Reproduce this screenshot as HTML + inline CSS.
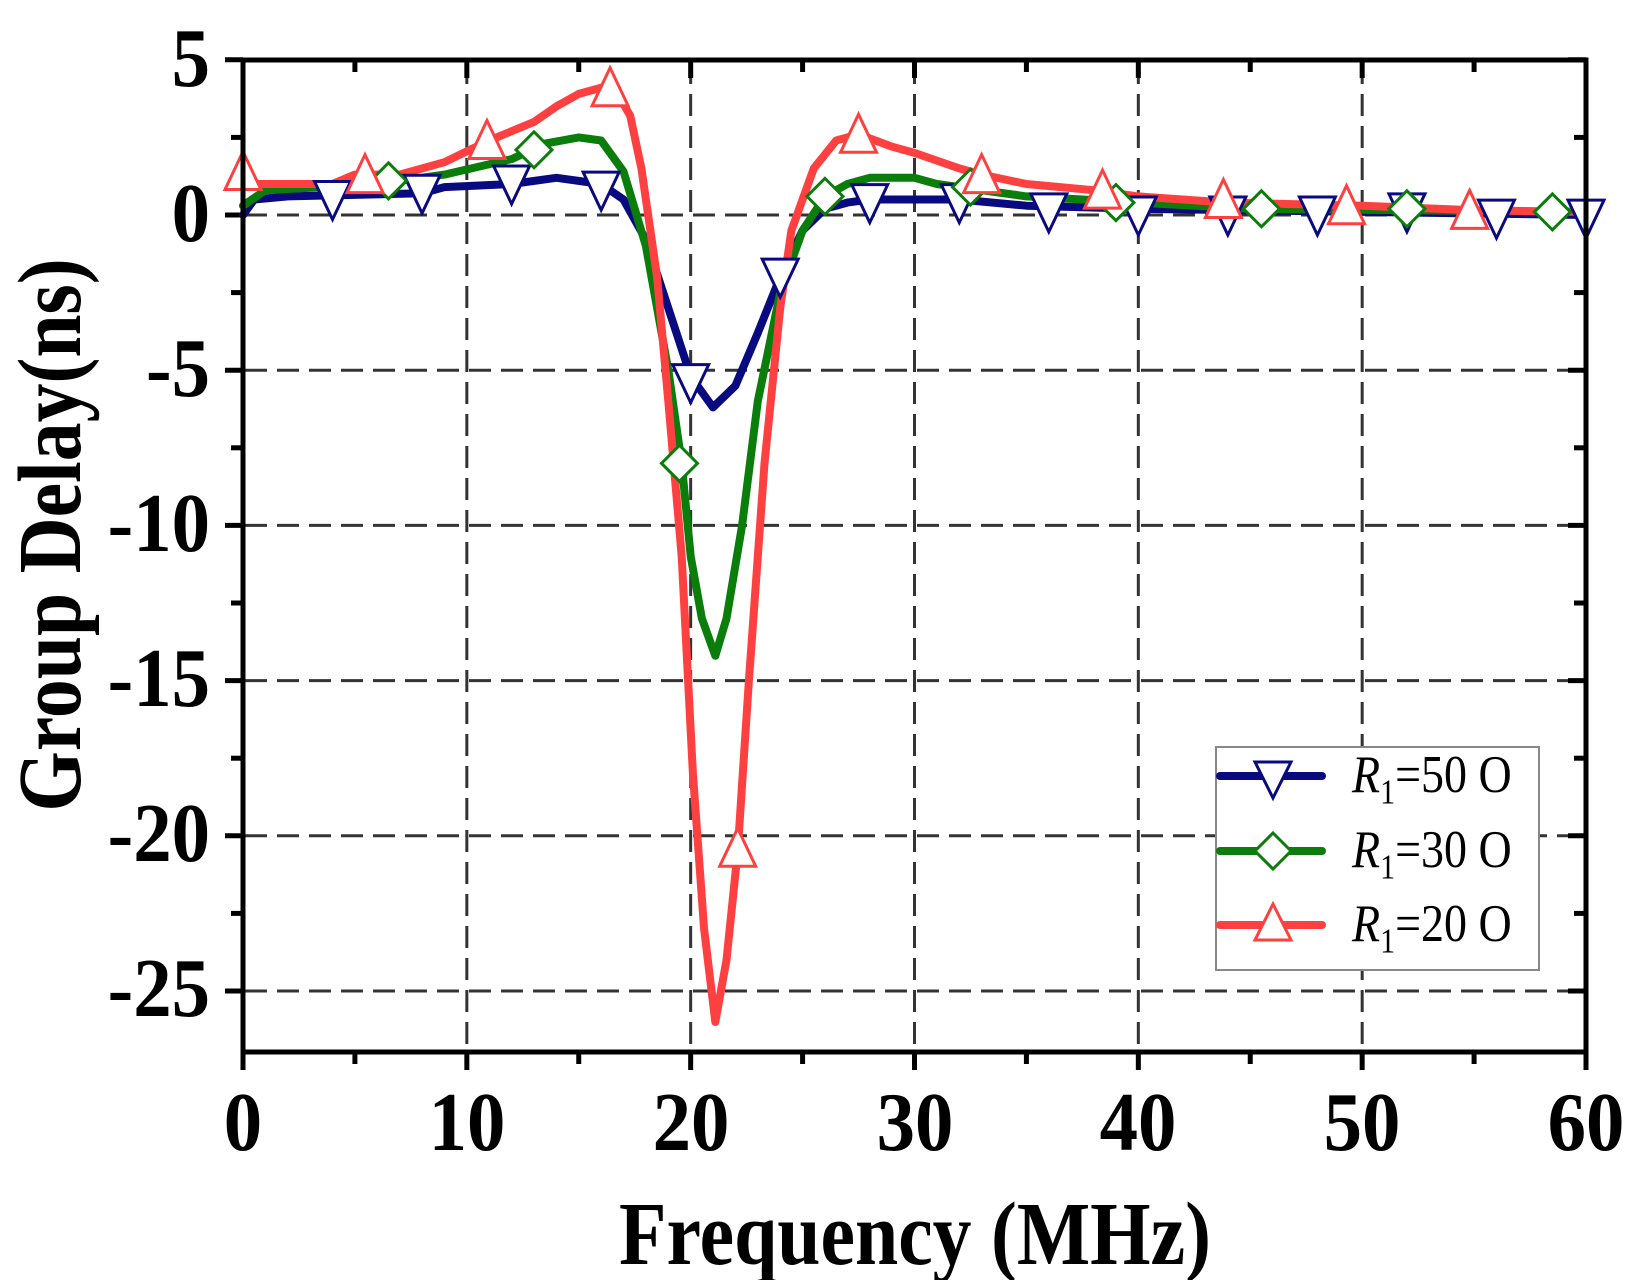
<!DOCTYPE html>
<html><head><meta charset="utf-8"><style>
html,body{margin:0;padding:0;background:#fff;}
svg{display:block;}
text{font-family:"Liberation Serif",serif;}
</style></head><body>
<svg id="s" width="1636" height="1280" viewBox="0 0 1636 1280" xmlns="http://www.w3.org/2000/svg">
<rect width="1636" height="1280" fill="#fff"/>
<g id="grid" stroke="#333" stroke-width="3" stroke-dasharray="22,10" fill="none"></g>
<g id="ticks" stroke="#000" stroke-width="5"></g>
<g id="series"></g>
<rect x="243" y="60" width="1343" height="992" fill="none" stroke="#000" stroke-width="5"/>
<g font-weight="bold" font-size="64" fill="#000">
<text transform="translate(243,1150) scale(1.2,1.3)" text-anchor="middle">0</text>
<text transform="translate(467,1150) scale(1.2,1.3)" text-anchor="middle">10</text>
<text transform="translate(691,1150) scale(1.2,1.3)" text-anchor="middle">20</text>
<text transform="translate(915,1150) scale(1.2,1.3)" text-anchor="middle">30</text>
<text transform="translate(1138,1150) scale(1.2,1.3)" text-anchor="middle">40</text>
<text transform="translate(1362,1150) scale(1.2,1.3)" text-anchor="middle">50</text>
<text transform="translate(1586,1150) scale(1.2,1.3)" text-anchor="middle">60</text>
<text transform="translate(210,86) scale(1.2,1.3)" text-anchor="end">5</text>
<text transform="translate(210,241) scale(1.2,1.3)" text-anchor="end">0</text>
<text transform="translate(210,396) scale(1.2,1.3)" text-anchor="end">-5</text>
<text transform="translate(210,551) scale(1.2,1.3)" text-anchor="end">-10</text>
<text transform="translate(210,706) scale(1.2,1.3)" text-anchor="end">-15</text>
<text transform="translate(210,861) scale(1.2,1.3)" text-anchor="end">-20</text>
<text transform="translate(210,1016) scale(1.2,1.3)" text-anchor="end">-25</text>
<text transform="translate(915,1264) scale(1.05,1.22)" text-anchor="middle" font-size="74">Frequency (MHz)</text>
<text transform="translate(80,535) rotate(-90) scale(1.05,1.22)" text-anchor="middle" font-size="74">Group Delay(ns)</text>
</g>
<rect x="1216" y="747" width="323" height="223" fill="#fff" stroke="#888" stroke-width="2"/>
<g stroke-linecap="round" stroke-width="8">
<line x1="1220" y1="776" x2="1322" y2="776" stroke="#0a0a80"/>
<line x1="1220" y1="851" x2="1322" y2="851" stroke="#0a7d0a"/>
<line x1="1220" y1="925" x2="1322" y2="925" stroke="#ff4040"/>
</g>
<g fill="#fff" stroke-width="3">
<polygon points="1255,762 1291,762 1273,798" stroke="#0a0a80"/>
<polygon points="1273,833 1291,851 1273,869 1255,851" stroke="#0a7d0a"/>
<polygon points="1255,940 1291,940 1273,904" stroke="#ff4040"/>
</g>
<g font-size="46" fill="#000">
<text transform="translate(1352,792) scale(1,1.15)"><tspan font-style="italic">R</tspan><tspan font-size="30" dy="10">1</tspan><tspan dy="-10">=50 O</tspan></text>
<text transform="translate(1352,867) scale(1,1.15)"><tspan font-style="italic">R</tspan><tspan font-size="30" dy="10">1</tspan><tspan dy="-10">=30 O</tspan></text>
<text transform="translate(1352,941) scale(1,1.15)"><tspan font-style="italic">R</tspan><tspan font-size="30" dy="10">1</tspan><tspan dy="-10">=20 O</tspan></text>
</g>
</svg>
<script>
(function(){
var NS="http://www.w3.org/2000/svg";
function X(f){return 243+f*1343/60;}
function Y(v){return 215-v*31.04;}
function el(p,n,a){var e=document.createElementNS(NS,n);for(var k in a)e.setAttribute(k,a[k]);p.appendChild(e);return e;}
var g=document.getElementById('grid');
[10,20,30,40,50].forEach(function(f){el(g,'line',{x1:X(f),y1:62,x2:X(f),y2:1050});});
[0,-5,-10,-15,-20,-25].forEach(function(v){el(g,'line',{x1:245,y1:Y(v),x2:1584,y2:Y(v)});});
var t=document.getElementById('ticks');
for(var f=0;f<=60;f+=5){var L=(f%10==0)?18:12;
 el(t,'line',{x1:X(f),y1:1052,x2:X(f),y2:1052+L});
 el(t,'line',{x1:X(f),y1:60,x2:X(f),y2:60+L});}
for(var v=5;v>=-27;v-=2.5){var L=(v%5==0)?18:12;
 el(t,'line',{x1:243,y1:Y(v),x2:243-L,y2:Y(v)});
 el(t,'line',{x1:1586,y1:Y(v),x2:1586-L,y2:Y(v)});}
var S=document.getElementById('series');
function line(d,c){var s=d.map(function(p){return X(p[0]).toFixed(1)+','+Y(p[1]).toFixed(1);}).join(' ');
 el(S,'polyline',{points:s,fill:'none',stroke:c,'stroke-width':8,'stroke-linejoin':'round','stroke-linecap':'round'});}
function tri(x,y,c,down){var cx=X(x),cy=Y(y),h=18;var p=down?[[cx-h,cy-h],[cx+h,cy-h],[cx,cy+h+2]]:[[cx-h,cy+h],[cx+h,cy+h],[cx,cy-h-2]];
 el(S,'polygon',{points:p.map(function(q){return q.join(',');}).join(' '),fill:'#fff',stroke:c,'stroke-width':3});}
function dia(x,y,c){var cx=X(x),cy=Y(y),h=18;el(S,'polygon',{points:[cx,cy-h,cx+h,cy,cx,cy+h,cx-h,cy].join(' '),fill:'#fff',stroke:c,'stroke-width':3});}
var blue=[[0,0],[0.5,0.5],[2,0.6],[8,0.7],[9,0.9],[12,1.0],[14,1.2],[16,1.0],[17,0.5],[18,-0.8],[19,-3],[20,-5.2],[21,-6.2],[22,-5.5],[23,-3.8],[24,-2],[25,-0.5],[26,0.2],[27,0.4],[28,0.5],[32,0.5],[35,0.3],[40,0.2],[50,0.1],[60,0.0]];
var green=[[0,0.3],[1,0.8],[6,1.0],[9,1.3],[12,1.8],[13.5,2.3],[15,2.5],[16,2.4],[17,1.4],[18,-1],[19,-5],[19.6,-8],[20,-11],[20.5,-13],[21.1,-14.2],[21.6,-13],[22.3,-10],[23,-6],[24,-2.5],[25,-0.5],[26,0.6],[27,1.0],[28,1.2],[30,1.2],[31,1.0],[33,0.8],[35,0.6],[40,0.4],[45,0.2],[60,0.1]];
var red=[[0,1.6],[0.5,1.0],[4,1.0],[5,1.3],[7,1.3],[9,1.7],[11,2.4],[13,3.0],[14,3.5],[15,3.9],[16.5,4.2],[17.3,3.2],[17.8,1.5],[18.5,-2],[19,-6],[19.6,-11],[20.1,-18],[20.6,-23],[21.1,-26],[21.6,-24],[22.1,-20.5],[22.6,-15],[23.3,-8],[24,-3],[24.5,-0.5],[25.5,1.5],[26.5,2.4],[27.5,2.6],[29,2.2],[30,2.0],[32,1.5],[33,1.3],[35,1.0],[38,0.8],[40,0.6],[44,0.4],[50,0.3],[55,0.15],[60,0.1]];
line(blue,'#0a0a80');line(green,'#0a7d0a');line(red,'#ff4040');
[[4,0.5],[8,0.7],[12,1.0],[16,0.8],[20,-5.4],[24,-2],[28,0.4],[32,0.4],[36,0.1],[40,0],[44,0],[48,0],[52,0.1],[56,-0.1],[60,-0.1]].forEach(function(p){tri(p[0],p[1],'#0a0a80',true);});
[[6.5,1.1],[13,2.1],[19.5,-8],[26,0.6],[32.5,0.9],[39,0.4],[45.5,0.2],[52,0.2],[58.5,0.1]].forEach(function(p){dia(p[0],p[1],'#0a7d0a');});
[[0,1.4],[5.45,1.3],[10.9,2.4],[16.4,4.1],[22.1,-20.4],[27.5,2.6],[33,1.3],[38.4,0.8],[43.8,0.5],[49.3,0.3],[54.8,0.15]].forEach(function(p){tri(p[0],p[1],'#ff4040',false);});
})();
</script>
</body></html>
